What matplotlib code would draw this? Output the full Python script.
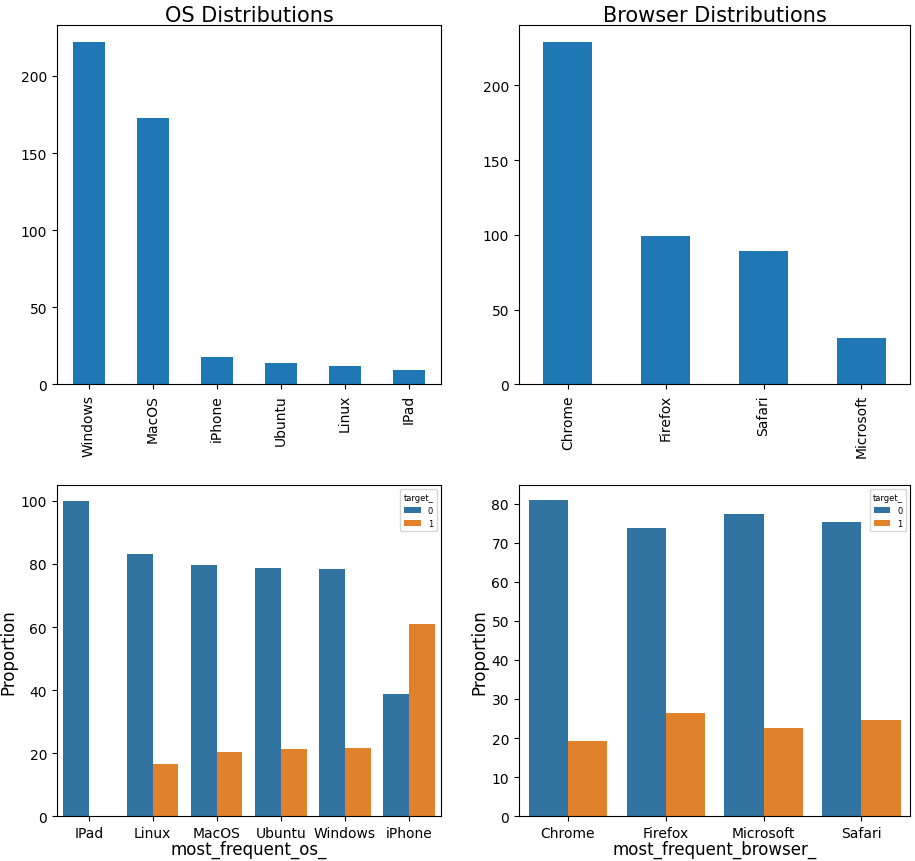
import numpy as np
import matplotlib.pyplot as plt

os_names = ["Windows", "MacOS", "iPhone", "Ubuntu", "Linux", "IPad"]
os_counts = [222, 173, 18, 14, 12, 9]
br_names = ["Chrome", "Firefox", "Safari", "Microsoft"]
br_counts = [229, 99, 89, 31]

os_prop_names = ["IPad", "Linux", "MacOS", "Ubuntu", "Windows", "iPhone"]
os_prop0 = [100.0, 83.3, 79.8, 78.6, 78.4, 38.9]
os_prop1 = [0.0, 16.7, 20.2, 21.4, 21.6, 61.1]
br_prop_names = ["Chrome", "Firefox", "Microsoft", "Safari"]
br_prop0 = [80.8, 73.7, 77.4, 75.3]
br_prop1 = [19.2, 26.3, 22.6, 24.7]

fig = plt.figure(figsize=(9.15, 8.62), dpi=100)
ax1 = fig.add_axes([0.062, 0.553, 0.420, 0.417])
ax2 = fig.add_axes([0.567, 0.553, 0.428, 0.417])
ax3 = fig.add_axes([0.062, 0.052, 0.420, 0.384])
ax4 = fig.add_axes([0.567, 0.052, 0.428, 0.384])

for ax, names, vals, title in [(ax1, os_names, os_counts, "OS Distributions"),
                               (ax2, br_names, br_counts, "Browser Distributions")]:
    x = np.arange(len(names))
    ax.bar(x, vals, width=0.5, color="#1f77b4")
    ax.set_xticks(x)
    ax.set_xticklabels(names, rotation=90, fontsize=10)
    ax.set_xlim(-0.5, len(names) - 0.5)
    ax.tick_params(axis="y", labelsize=10)
    ax.set_title(title, fontsize=15, pad=2)

for ax, names, v0, v1, xl, ymax in [(ax3, os_prop_names, os_prop0, os_prop1, "most_frequent_os_", 105),
                                    (ax4, br_prop_names, br_prop0, br_prop1, "most_frequent_browser_", 84.7)]:
    x = np.arange(len(names))
    ax.bar(x - 0.2, v0, width=0.4, color="#3274a1", label="0")
    ax.bar(x + 0.2, v1, width=0.4, color="#e1812c", label="1")
    ax.set_xticks(x)
    ax.set_xticklabels(names, fontsize=10)
    ax.set_xlim(-0.5, len(names) - 0.5)
    ax.set_ylim(0, ymax)
    ax.tick_params(axis="y", labelsize=10)
    ax.set_xlabel(xl, fontsize=12, labelpad=0)
    ax.set_ylabel("Proportion", fontsize=12, labelpad=2)
    ax.legend(title="target_", loc="upper right", fontsize=6, title_fontsize=6)

fig.savefig("out.png", dpi=100)
